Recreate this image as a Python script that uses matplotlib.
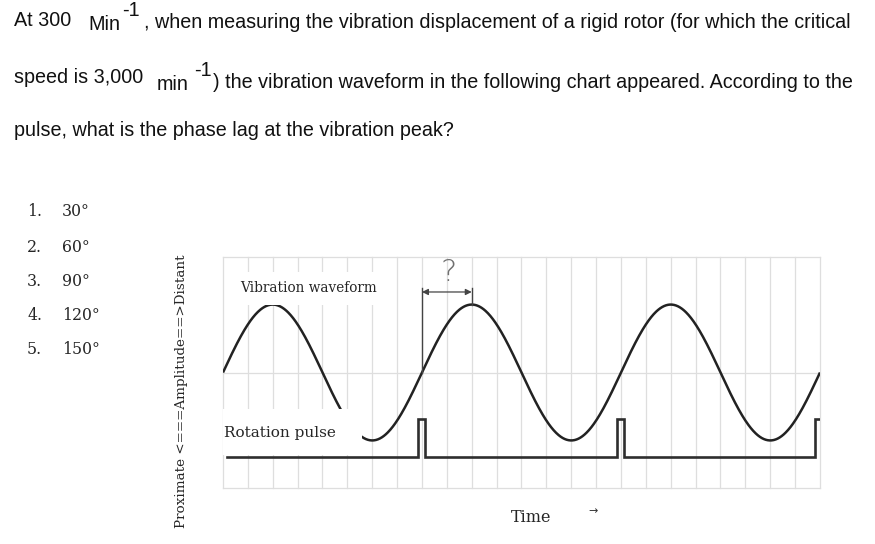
import numpy as np
import matplotlib
matplotlib.use("Agg")
import matplotlib.pyplot as plt
from matplotlib.patches import Rectangle

# ---- data ----
question_lines = [
    "At 300",
    ", when measuring the vibration displacement of a rigid rotor (for which the critical",
    "speed is 3,000",
    ") the vibration waveform in the following chart appeared. According to the",
    "pulse, what is the phase lag at the vibration peak?",
]
option_numbers = ["1.", "2.", "3.", "4.", "5."]
option_values = ["30°", "60°", "90°", "120°", "150°"]

# time axis in rotation degrees (one grid division = 45 deg)
x_min, x_max = 0, 1080
grid_step = 45
y_min, y_max = -1.7, 1.7

# vibration waveform: sinusoid, amplitude / first peak
wave_amplitude = 1.0
wave_period = 360.0
wave_first_peak = 90.0

# rotation pulse: once per revolution
pulse_starts = [353, 713, 1071]
pulse_width = 12
pulse_low = -1.25
pulse_high = -0.69
pulse_line_start = 7
pulse_line_end = 1078

# phase-lag annotation
pulse_ref = 360
peak_ref = 450

# ---- figure ----
W, H = 875, 544
fig = plt.figure(figsize=(W / 100, H / 100), dpi=100)
fig.patch.set_facecolor("white")


def fx(px):
    return px / W


def fy(py):
    return 1 - py / H


sans = ["Liberation Sans", "DejaVu Sans"]
serif = ["DejaVu Serif"]
qsize = 14.2
qc = "#111111"

fig.text(fx(14), fy(21), question_lines[0], family=sans, fontsize=qsize, color=qc, va="center")
fig.text(fx(88), fy(25), "Min", family=sans, fontsize=qsize, color=qc, va="center")
fig.text(fx(122), fy(11), "-1", family=sans, fontsize=qsize, color=qc, va="center")
fig.text(fx(144), fy(23), question_lines[1], family=sans, fontsize=qsize, color=qc, va="center")
fig.text(fx(14), fy(78), question_lines[2], family=sans, fontsize=qsize, color=qc, va="center")
fig.text(fx(157), fy(85), "min", family=sans, fontsize=qsize, color=qc, va="center")
fig.text(fx(194), fy(70), "-1", family=sans, fontsize=qsize, color=qc, va="center")
fig.text(fx(213), fy(82), question_lines[3], family=sans, fontsize=qsize, color=qc, va="center")
fig.text(fx(14), fy(130), question_lines[4], family=sans, fontsize=qsize, color=qc, va="center")

opt_y = [212, 247, 281, 316, 350]
for n, v, yy in zip(option_numbers, option_values, opt_y):
    fig.text(fx(27), fy(yy), n, family=serif, fontsize=11.3, color="#262626", va="center")
    fig.text(fx(62), fy(yy), v, family=serif, fontsize=11.3, color="#262626", va="center")

# chart axes (grid area)
left, right, top, bottom = 223, 820, 257, 488
ax = fig.add_axes([fx(left), fy(bottom), (right - left) / W, (bottom - top) / H])
ax.set_xlim(x_min, x_max)
ax.set_ylim(y_min, y_max)
ax.axis("off")

gcol = "#dedede"
for gx in np.arange(x_min, x_max + 1, grid_step):
    ax.plot([gx, gx], [y_min, y_max], color=gcol, lw=0.9, zorder=1, clip_on=False)
for gy in [y_min, 0, y_max]:
    ax.plot([x_min, x_max], [gy, gy], color=gcol, lw=0.9, zorder=1, clip_on=False)

theta = np.linspace(x_min, x_max, 1200)
wave = wave_amplitude * np.sin(np.deg2rad(theta - wave_first_peak + 90))
ax.plot(theta, wave, color="#222222", lw=1.8, zorder=3, solid_capstyle="butt")

# white area behind the "Rotation pulse" label
ax.add_patch(Rectangle((x_min, pulse_low + 0.03), 252, -0.54 - (pulse_low + 0.03),
                       facecolor="white", edgecolor="none", zorder=4))

# pulse trace
px = [pulse_line_start]
py = [pulse_low]
for s in pulse_starts:
    e = min(s + pulse_width, pulse_line_end)
    px += [s, s, e]
    py += [pulse_low, pulse_high, pulse_high]
    if e < pulse_line_end:
        px += [e]
        py += [pulse_low]
ax.plot(px, py, color="#2e2e2e", lw=1.9, zorder=5, solid_joinstyle="miter")

ax.text(31, 1.24, "Vibration waveform", family=serif, fontsize=9.8, color="#262626",
        va="center", ha="left", zorder=6,
        bbox=dict(facecolor="white", edgecolor="none", pad=7))
ax.text(2, -0.89, "Rotation pulse", family=serif, fontsize=11, color="#262626",
        va="center", ha="left", zorder=6)

# phase-lag annotation
acol = "#444444"
ax.plot([pulse_ref, pulse_ref], [0, 1.25], color=acol, lw=1.0, zorder=6)
ax.plot([peak_ref, peak_ref], [wave_amplitude, 1.25], color=acol, lw=1.0, zorder=6)
ax.annotate("", xy=(pulse_ref, 1.185), xytext=(peak_ref, 1.185),
            arrowprops=dict(arrowstyle="<|-|>", color=acol, lw=0.9,
                            mutation_scale=9, shrinkA=0, shrinkB=0), zorder=6)
ax.text(409, 1.47, "?", family="DejaVu Sans", fontweight="light", fontsize=22,
        color="#707070", ha="center", va="center", zorder=6)

fig.text(fx(182), fy(391), "Proximate <===Amplitude==>Distant", family=serif,
         fontsize=9.7, color="#262626", rotation=90, ha="center", va="center")
fig.text(fx(531), fy(517), "Time", family=serif, fontsize=11.5, color="#262626",
         ha="center", va="center")
fig.text(fx(593), fy(511), "→", family="DejaVu Sans", fontsize=8, color="#333333",
         ha="center", va="center")

fig.savefig("out.png", dpi=100, facecolor="white")
